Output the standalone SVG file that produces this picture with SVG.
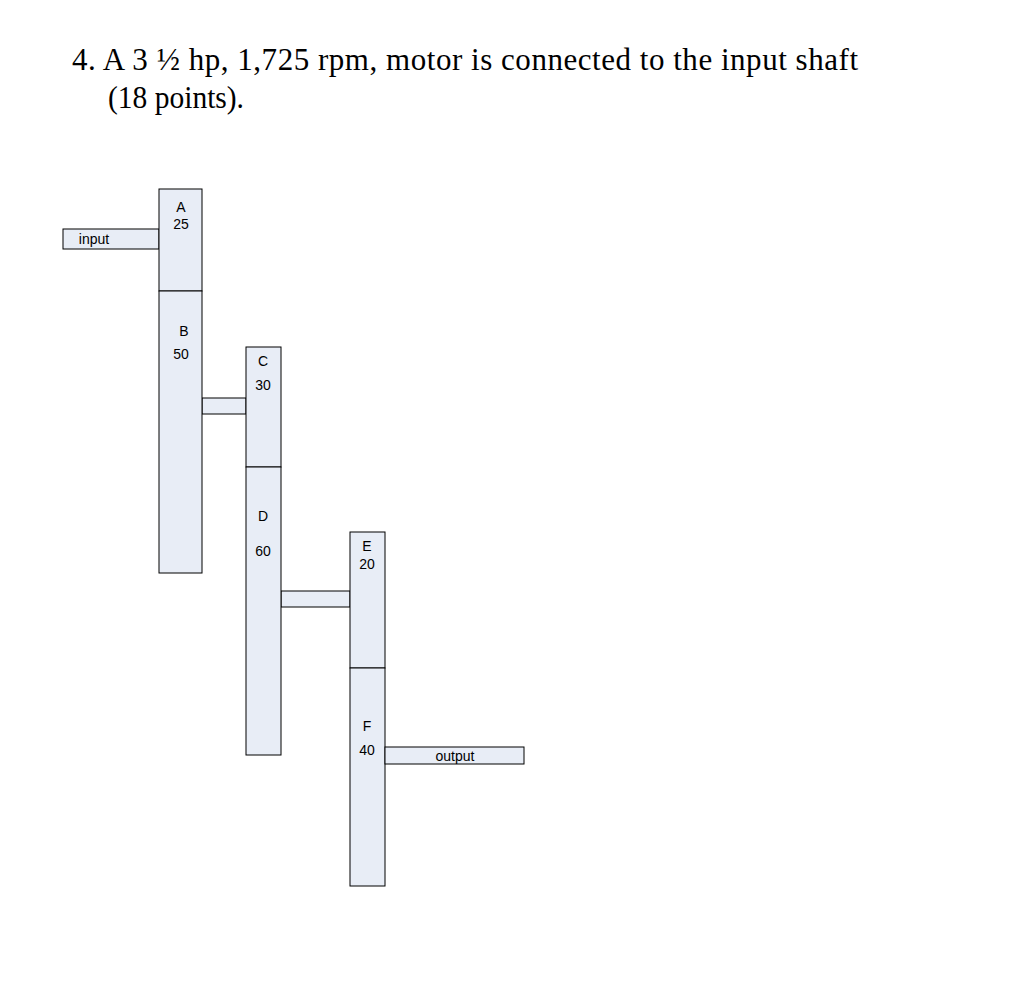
<svg xmlns="http://www.w3.org/2000/svg" width="1018" height="998" viewBox="0 0 1018 998">
<style>
.b{fill:#e8edf6;stroke:#000;stroke-width:1}
.t{font-family:"Liberation Sans",Arial,sans-serif;font-size:14px;text-anchor:middle;fill:#000}
.h{font-family:"Liberation Serif","Times New Roman",serif;font-size:31px;fill:#000}
</style>
<rect width="1018" height="998" fill="#fff"/>
<text class="h" x="72" y="70" textLength="786" lengthAdjust="spacing">4. A 3 ½ hp, 1,725 rpm, motor is connected to the input shaft</text>
<text class="h" x="108" y="108" textLength="136" lengthAdjust="spacingAndGlyphs">(18 points).</text>
<g id="connectors">
<rect class="b" x="202" y="398" width="44" height="16"/>
<rect class="b" x="281" y="591" width="69" height="16"/>
</g>
<g id="input"><rect class="b" x="63" y="229" width="96" height="20"/><text class="t" x="94" y="244">input</text></g>
<g id="A"><rect class="b" x="159" y="189" width="43" height="102"/><text class="t" x="181" y="212">A</text><text class="t" x="181" y="229">25</text></g>
<g id="B"><rect class="b" x="159" y="291" width="43" height="282"/><text class="t" x="184" y="336">B</text><text class="t" x="181" y="359">50</text></g>
<g id="C"><rect class="b" x="246" y="347" width="35" height="120"/><text class="t" x="263" y="366">C</text><text class="t" x="263" y="390">30</text></g>
<g id="D"><rect class="b" x="246" y="467" width="35" height="288"/><text class="t" x="263" y="521">D</text><text class="t" x="263" y="556">60</text></g>
<g id="E"><rect class="b" x="350" y="532" width="35" height="136"/><text class="t" x="367" y="551">E</text><text class="t" x="367" y="569">20</text></g>
<g id="F"><rect class="b" x="350" y="668" width="35" height="218"/><text class="t" x="367" y="731">F</text><text class="t" x="367" y="755">40</text></g>
<g id="output"><rect class="b" x="385" y="747" width="139" height="17"/><text class="t" x="455" y="761">output</text></g>
</svg>
